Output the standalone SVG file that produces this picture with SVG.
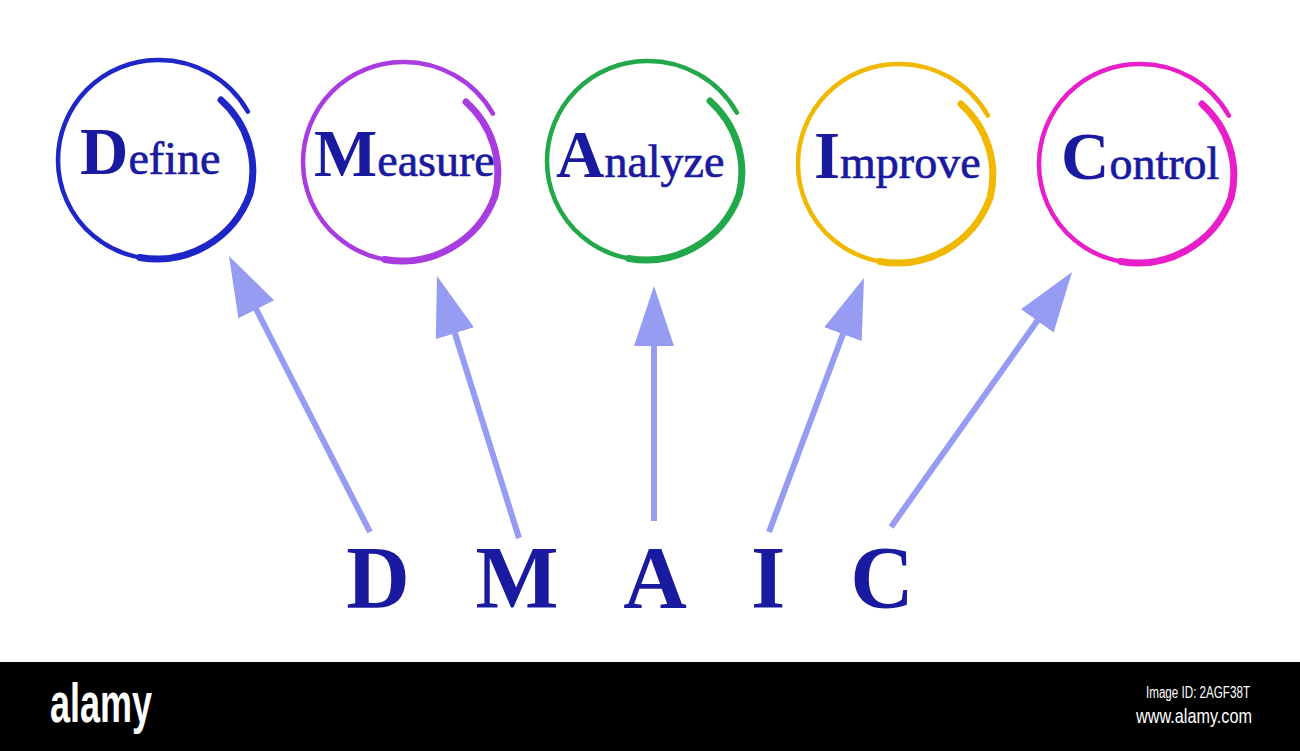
<svg xmlns="http://www.w3.org/2000/svg" xmlns:xlink="http://www.w3.org/1999/xlink" width="1300" height="751" viewBox="0 0 1300 751">
<style>
.lbl{font-family:"Liberation Serif","Times New Roman",serif;fill:#1a1aa0}
.cap{font-size:67px;font-weight:bold}
.low{font-size:46px;stroke:#1a1aa0;stroke-width:0.7}
.big{font-family:"Liberation Serif","Times New Roman",serif;fill:#1a1aa0;font-size:88px;font-weight:bold;text-anchor:middle}
.ar{stroke:#959cf2;stroke-width:6;fill:none;marker-end:url(#head)}
.ring{fill:none;stroke-linecap:round}
.wm{font-family:"Liberation Sans Narrow","Liberation Sans",Arial,sans-serif;fill:#ffffff}
</style>
<defs>
<marker id="head" markerUnits="userSpaceOnUse" markerWidth="62" markerHeight="42" refX="5" refY="20" orient="auto" viewBox="0 0 62 42">
<path d="M0,0 L60,20 L0,40 Z" fill="#959cf2"/>
</marker>
<g id="ring" class="ring">
<path d="M64,-60 A95,95 0 0 1 93,33.9 A99,99 0 0 1 -17.2,97.5" stroke-width="7"/>
<path d="M17.2,97.5 A99,99 0 0 1 -99,0 A100,100 0 0 1 0,-100 A102,102 0 0 1 90.9,-48.4" stroke-width="4.5"/>
</g>
</defs>
<rect width="1300" height="751" fill="#ffffff"/>
<g id="connectors">
<line class="ar" x1="370" y1="532" x2="254" y2="305"/>
<line class="ar" x1="519" y1="538" x2="453.4" y2="328.5"/>
<line class="ar" x1="654" y1="521" x2="654" y2="341"/>
<line class="ar" x1="769" y1="532" x2="844.7" y2="329.5"/>
<line class="ar" x1="891" y1="527" x2="1040.2" y2="316.8"/>
</g>
<g id="define">
<use xlink:href="#ring" href="#ring" transform="translate(157,160)" stroke="#1f26c8"/>
<text class="lbl" x="80" y="174"><tspan class="cap">D</tspan><tspan class="low">efine</tspan></text>
</g>
<g id="measure">
<use xlink:href="#ring" href="#ring" transform="translate(402,162)" stroke="#a83ce0"/>
<text class="lbl" x="314" y="176"><tspan class="cap">M</tspan><tspan class="low">easure</tspan></text>
</g>
<g id="analyze">
<use xlink:href="#ring" href="#ring" transform="translate(646,161)" stroke="#22a84a"/>
<text class="lbl" x="556" y="177"><tspan class="cap">A</tspan><tspan class="low">nalyze</tspan></text>
</g>
<g id="improve">
<use xlink:href="#ring" href="#ring" transform="translate(897,164)" stroke="#f0b800"/>
<text class="lbl" x="814" y="178"><tspan class="cap">I</tspan><tspan class="low">mprove</tspan></text>
</g>
<g id="control">
<use xlink:href="#ring" href="#ring" transform="translate(1138,164)" stroke="#e81ec8"/>
<text class="lbl" x="1061" y="179"><tspan class="cap">C</tspan><tspan class="low">ontrol</tspan></text>
</g>
<g id="dmaic">
<text class="big" x="378" y="607">D</text>
<text class="big" x="517" y="607">M</text>
<text class="big" x="655" y="607">A</text>
<text class="big" x="768" y="607">I</text>
<text class="big" x="882" y="607">C</text>
</g>
<g id="footer">
<rect x="0" y="662" width="1300" height="89" fill="#000000"/>
<text class="wm" x="50" y="722" font-size="56" font-weight="bold" textLength="102" lengthAdjust="spacingAndGlyphs">alamy</text>
<text class="wm" x="1146" y="698" font-size="16" textLength="104" lengthAdjust="spacingAndGlyphs">Image ID: 2AGF38T</text>
<text class="wm" x="1136" y="723" font-size="21" textLength="116" lengthAdjust="spacingAndGlyphs">www.alamy.com</text>
</g>
</svg>
